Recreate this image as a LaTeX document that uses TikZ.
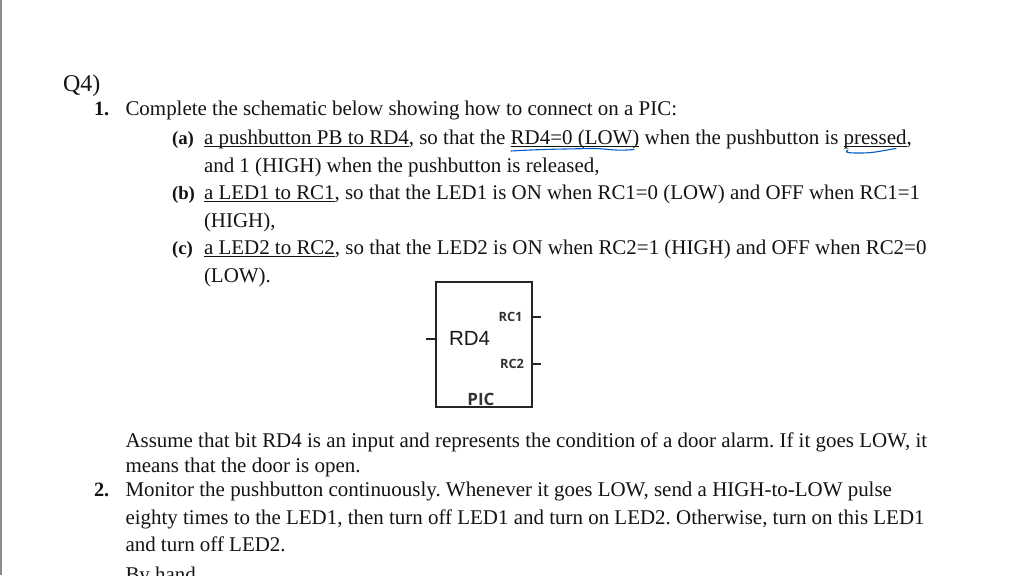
\documentclass[tikz,border=0pt]{standalone}
\usepackage{fontspec}
\setmainfont{Liberation Serif}
\setsansfont{Open Sans}
\newfontfamily\arialf{Liberation Sans}
\frenchspacing
\newsavebox{\ulbox}
\newcommand{\ulx}[1]{\sbox{\ulbox}{#1}\leavevmode\rlap{\rule[-2.2pt]{\wd\ulbox}{0.8pt}}\usebox{\ulbox}}
\tikzset{
  x=1pt,y=-1pt,
  txt/.style={anchor=base west,inner sep=0pt,outer sep=0pt,font=\fontsize{20.95}{24}\selectfont,text=black!92},
  num/.style={txt,font=\bfseries\fontsize{20.3}{24}\selectfont},
  sub/.style={txt,font=\bfseries\fontsize{18.8}{24}\selectfont},
  pin/.style={line width=2pt,black!85},
  smalllab/.style={inner sep=0pt,font=\sffamily\bfseries\fontsize{12.8}{14}\selectfont,text=black!80},
  ink/.style={line width=1.1pt,color=blue!55!cyan!80!black,line cap=round}
}
\begin{document}
\begin{tikzpicture}
\useasboundingbox (0,0) rectangle (1024,575);
\clip (0,0) rectangle (1024,575);
\fill[white] (0,0) rectangle (1024,575);
\fill[black!45] (0,0) rectangle (1.5,575);
\node[txt,font=\fontsize{24}{26}\selectfont] (q) at (63,92) {Q4)};
\node[num] (n1) at (94,116) {1.};
\node[txt] (l1) at (125.5,116) {Complete the schematic below showing how to connect on a PIC:};
\node[sub] (a) at (172,144.5) {(a)};
\node[txt] (l2) at (204,144.5) {\ulx{a pushbutton PB to RD4}, so that the \ulx{RD4=0 (LOW)} when the pushbutton is \ulx{pressed},};
\node[txt] (l3) at (204,172) {and 1 (HIGH) when the pushbutton is released,};
\node[sub] (b) at (172,199.5) {(b)};
\node[txt,font=\fontsize{20.9}{24}\selectfont] (l4) at (204,199.5) {\ulx{a LED1 to RC1}, so that the LED1 is ON when RC1=0 (LOW) and OFF when RC1=1};
\node[txt] (l5) at (204,227) {(HIGH),};
\node[sub] (c) at (172,254.5) {(c)};
\node[txt] (l6) at (204,254.5) {\ulx{a LED2 to RC2}, so that the LED2 is ON when RC2=1 (HIGH) and OFF when RC2=0};
\node[txt] (l7) at (204,282) {(LOW).};
\node[draw=black!85,line width=2.2pt,minimum width=96pt,minimum height=125pt,inner sep=0pt] (pic) at (484,344.5) {};
\coordinate (rdend) at (426,339);
\coordinate (rc1end) at (541,317);
\coordinate (rc2end) at (541,364);
\draw[pin] (pic.west |- rdend) -- (rdend);
\draw[pin] (pic.east |- rc1end) -- (rc1end);
\draw[pin] (pic.east |- rc2end) -- (rc2end);
\node[inner sep=0pt,font=\arialf\fontsize{20.5}{24}\selectfont,text=black!90] (rd4) at (469.5,338) {RD4};
\node[smalllab] (rc1) at (510.5,316.5) {RC1};
\node[smalllab] (rc2) at (512,364) {RC2};
\node[smalllab,font=\sffamily\bfseries\fontsize{17}{19}\selectfont] (piclab) at (481,399) {PIC};
\node[txt] (l8) at (125.5,447.5) {Assume that bit RD4 is an input and represents the condition of a door alarm. If it goes LOW, it};
\node[txt] (l9) at (125.5,472) {means that the door is open.};
\node[num] (n2) at (94,496.5) {2.};
\node[txt] (l10) at (125.5,496.5) {Monitor the pushbutton continuously. Whenever it goes LOW, send a HIGH-to-LOW pulse};
\node[txt] (l11) at (125.5,524) {eighty times to the LED1, then turn off LED1 and turn on LED2. Otherwise, turn on this LED1};
\node[txt] (l12) at (125.5,551) {and turn off LED2.};
\node[txt] (l13) at (125.5,581) {By hand};
\draw[ink] (511,151) .. controls (545,149) and (570,149) .. (590,148.5) .. controls (605,148) and (612,151.5) .. (634,149.5);
\draw[ink] (848,150) .. controls (843,153) and (850,153) .. (862,153) .. controls (875,153) and (885,150) .. (896,148.5);
\end{tikzpicture}
\end{document}
